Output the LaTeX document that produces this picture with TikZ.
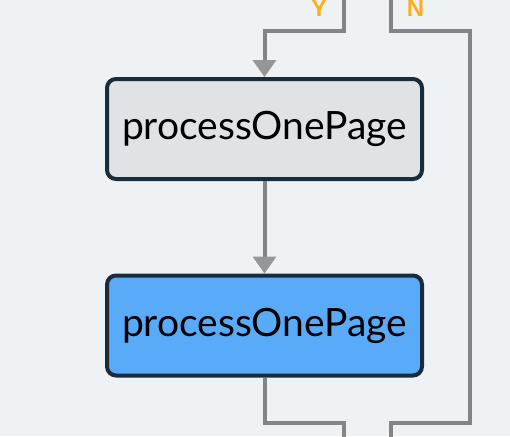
\documentclass[tikz,border=0pt]{standalone}
\usepackage{fontspec}
\setmainfont{Lato}
\newfontfamily\tagfont{Liberation Sans}
\usetikzlibrary{arrows.meta,positioning}
\definecolor{bgcol}{RGB}{239,242,245}
\definecolor{boxline}{RGB}{26,43,58}
\definecolor{idlefill}{RGB}{224,227,230}
\definecolor{activefill}{RGB}{90,170,250}
\definecolor{flowgray}{RGB}{132,132,132}
\definecolor{tagorange}{RGB}{253,175,30}
\begin{document}
\begin{tikzpicture}[x=1pt,y=-1pt,
	pagebox/.style={draw=boxline,line width=4pt,rounded corners=9pt,
		minimum width=315pt,minimum height=100pt,inner sep=0pt,
		font=\fontsize{39}{44}\selectfont},
	flow/.style={draw=flowgray,line width=4pt},
	flowarrow/.style={flow,-{Triangle[width=24pt,length=17pt,line width=0pt,color=flowgray!85]}},
	tag/.style={text=tagorange,anchor=base,inner sep=0pt,
		font=\tagfont\bfseries\fontsize{24}{24}\selectfont}]
	\fill [bgcol] (0,0) rectangle (510,436);
	\useasboundingbox (0,0) rectangle (510,436);
	% the two page boxes
	\node [pagebox,fill=idlefill] (first) at (264.5,129) {processOnePage};
	\node [pagebox,fill=activefill] (second) at (264.5,325.5) {processOnePage};
	% loose ends of the branches
	\coordinate (yin) at (344,-2);
	\coordinate (nin) at (391,-2);
	\coordinate (yout) at (344,438);
	\coordinate (nout) at (391,438);
	\node [tag] (ylabel) at (319,16.5) {Y};
	\node [tag] (nlabel) at (415.5,16.5) {N};
	% connectors
	\draw [flowarrow] (yin) -- (344,31) -| (first.north);
	\draw [flowarrow] (first.south) -- (second.north);
	\draw [flow] (second.south) |- (344,423) -- (yout);
	\draw [flow] (nin) |- (470,31) |- (391,423) -- (nout);
\end{tikzpicture}
\end{document}
